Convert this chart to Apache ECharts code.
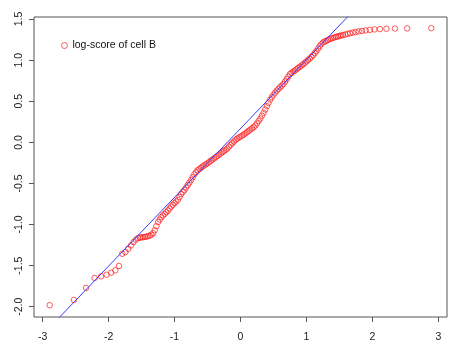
<!DOCTYPE html>
<html>
<head>
<meta charset="utf-8">
<script src="https://cdn.jsdelivr.net/npm/echarts@6/dist/echarts.min.js"></script>
<style>
html, body { margin: 0; padding: 0; background: #fff; }
#qqChart { width: 474px; height: 353px; }
</style>
</head>
<body>
<div id="qqChart"></div>
<script>
// theoretical quantiles (x) and sorted log-scores (y)
const lowTailX = [-2.892, -2.526, -2.341, -2.212, -2.113, -2.03, -1.96, -1.898, -1.842, -1.792, -1.745, -1.702, -1.661, -1.623, -1.587, -1.552]
const lowTailY = [-1.982, -1.917, -1.771, -1.65, -1.63, -1.61, -1.586, -1.558, -1.505, -1.356, -1.335, -1.295, -1.255, -1.214, -1.185, -1.165]

const midX = [
    -1.525, -1.5, -1.475, -1.45, -1.425, -1.4, -1.375, -1.35, -1.325, -1.3,
    -1.275, -1.25, -1.225, -1.2, -1.175, -1.15, -1.125, -1.1, -1.075, -1.05,
    -1.025, -1, -0.975, -0.95, -0.925, -0.9, -0.875, -0.85, -0.825, -0.8,
    -0.775, -0.75, -0.725, -0.7, -0.675, -0.65, -0.625, -0.6, -0.575, -0.55,
    -0.525, -0.5, -0.475, -0.45, -0.425, -0.4, -0.375, -0.35, -0.325, -0.3,
    -0.275, -0.25, -0.225, -0.2, -0.175, -0.15, -0.125, -0.1, -0.075, -0.05,
    -0.025, 0, 0.025, 0.05, 0.075, 0.1, 0.125, 0.15, 0.175, 0.2,
    0.225, 0.25, 0.275, 0.3, 0.325, 0.35, 0.375, 0.4, 0.425, 0.45,
    0.475, 0.5, 0.525, 0.55, 0.575, 0.6, 0.625, 0.65, 0.675, 0.7,
    0.725, 0.75, 0.775, 0.8, 0.825, 0.85, 0.875, 0.9, 0.925, 0.95,
    0.975, 1, 1.025, 1.05, 1.075, 1.1, 1.125, 1.15, 1.175, 1.2,
    1.225, 1.25, 1.275, 1.3, 1.325, 1.35, 1.375, 1.4, 1.425, 1.45,
    1.475, 1.5, 1.525
]
const midY = [
    -1.16, -1.155, -1.155, -1.15, -1.148, -1.14, -1.135, -1.125, -1.105, -1.07,
    -1.02, -0.97, -0.94, -0.91, -0.89, -0.87, -0.85, -0.83, -0.805, -0.78,
    -0.76, -0.74, -0.72, -0.70, -0.665, -0.63, -0.605, -0.58, -0.55, -0.52,
    -0.49, -0.46, -0.425, -0.39, -0.365, -0.34, -0.325, -0.31, -0.295, -0.28,
    -0.268, -0.255, -0.24, -0.225, -0.21, -0.195, -0.18, -0.165, -0.15, -0.135,
    -0.12, -0.105, -0.09, -0.075, -0.052, -0.03, -0.01, 0.01, 0.028, 0.045,
    0.058, 0.07, 0.082, 0.095, 0.11, 0.125, 0.14, 0.155, 0.17, 0.185,
    0.205, 0.23, 0.26, 0.29, 0.325, 0.36, 0.40, 0.44, 0.48, 0.52,
    0.55, 0.58, 0.605, 0.63, 0.65, 0.67, 0.69, 0.71, 0.74, 0.77,
    0.80, 0.83, 0.845, 0.86, 0.875, 0.89, 0.905, 0.92, 0.935, 0.95,
    0.967, 0.985, 1.002, 1.02, 1.04, 1.06, 1.085, 1.11, 1.14, 1.17,
    1.195, 1.215, 1.225, 1.235, 1.245, 1.255, 1.263, 1.27, 1.277, 1.283,
    1.289, 1.295, 1.30
]

const highTailX = [1.552, 1.587, 1.623, 1.661, 1.702, 1.745, 1.792, 1.842, 1.898, 1.96, 2.03, 2.113, 2.212, 2.341, 2.526, 2.892]
const highTailY = [1.305, 1.312, 1.32, 1.327, 1.335, 1.342, 1.35, 1.355, 1.362, 1.368, 1.374, 1.378, 1.382, 1.385, 1.386, 1.389]

// qqline end points
const lineX = [-3, 3]
const lineY = [-2.343, 2.679]

const xTicks = [-3, -2, -1, 0, 1, 2, 3]
const yTicks = [-2, -1.5, -1, -0.5, 0, 0.5, 1, 1.5]

const qx = lowTailX.concat(midX, highTailX)
const qy = lowTailY.concat(midY, highTailY)
const points = qx.map((x, i) => [x, qy[i]])
const linePoints = lineX.map((x, i) => [x, lineY[i]])

const fontFamily = '"Liberation Sans", Arial, sans-serif'
const frameColor = '#555'

var myChart = echarts.init(document.getElementById('qqChart'))
const option = {
    animation: false,
    backgroundColor: '#fff',
    grid: {
        left: 34,
        right: 27,
        top: 17,
        bottom: 36,
        show: true,
        borderColor: frameColor,
        borderWidth: 1,
        backgroundColor: 'transparent'
    },
    legend: {
        left: 61,
        top: 40,
        padding: 0,
        itemWidth: 6,
        itemHeight: 6,
        selectedMode: false,
        itemStyle: { color: 'rgba(255,0,0,0)', borderColor: '#ff1a1a', borderWidth: 0.9 },
        textStyle: { fontSize: 10.5, color: '#111', fontFamily: fontFamily },
        data: ['log-score of cell B']
    },
    xAxis: {
        type: 'value',
        min: -3.13,
        max: 3.13,
        axisLine: { show: false, onZero: false },
        splitLine: { show: false },
        axisTick: {
            show: true,
            length: 5,
            customValues: xTicks,
            lineStyle: { color: frameColor }
        },
        axisLabel: {
            customValues: xTicks,
            margin: 15,
            fontSize: 10.5,
            color: '#222',
            fontFamily: fontFamily
        }
    },
    yAxis: {
        type: 'value',
        min: -2.125,
        max: 1.525,
        axisLine: { show: false, onZero: false },
        splitLine: { show: false },
        axisTick: {
            show: true,
            length: 5,
            customValues: yTicks,
            lineStyle: { color: frameColor }
        },
        axisLabel: {
            customValues: yTicks,
            rotate: 90,
            margin: 9,
            fontSize: 10.5,
            color: '#222',
            fontFamily: fontFamily,
            formatter: v => v.toFixed(1)
        }
    },
    series: [
        {
            name: 'log-score of cell B',
            type: 'scatter',
            symbol: 'circle',
            symbolSize: 5.5,
            itemStyle: {
                color: 'rgba(255,0,0,0)',
                borderColor: '#ff1a1a',
                borderWidth: 0.9
            },
            emphasis: { disabled: true },
            data: points
        },
        {
            name: 'qqline',
            type: 'line',
            showSymbol: false,
            clip: true,
            lineStyle: { color: '#3a3aff', width: 1 },
            emphasis: { disabled: true },
            data: linePoints
        }
    ]
}
myChart.setOption(option)
</script>
</body>
</html>
